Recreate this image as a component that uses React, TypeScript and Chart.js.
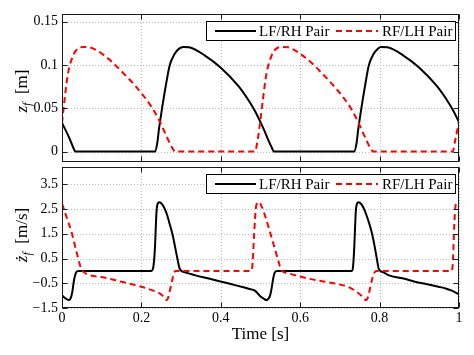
import React, { useEffect, useRef } from 'react';
import { Chart, registerables } from 'chart.js';

Chart.register(...registerables);

const FONT = "'Liberation Serif', 'Times New Roman', Times, serif";
const BLACK = '#000000';
const RED = '#ff0000';

const seriesNames = ['LF/RH Pair', 'RF/LH Pair'];

const timeTickValues = [0, 0.2, 0.4, 0.6, 0.8, 1];
const timeTickLabels = ['0', '0.2', '0.4', '0.6', '0.8', '1'];
const heightTickValues = [0, 0.05, 0.1, 0.15];
const heightTickLabels = ['0', '0.05', '0.1', '0.15'];
const velocityTickValues = [-1.5, -0.5, 0.5, 1.5, 2.5, 3.5];
const velocityTickLabels = ['\u22121.5', '\u22120.5', '0.5', '1.5', '2.5', '3.5'];

// LF/RH pair foot height z_f [m]
const lfHeightTime = [0, 0.01, 0.02, 0.028, 0.034, 0.234, 0.24, 0.244, 0.252, 0.261, 0.2715, 0.284, 0.295, 0.305, 0.32, 0.36, 0.4, 0.444, 0.469, 0.486, 0.5, 0.51, 0.52, 0.528, 0.534, 0.736, 0.742, 0.746, 0.754, 0.763, 0.773, 0.785, 0.796, 0.803, 0.82, 0.86, 0.9, 0.944, 0.969, 0.986, 1.0];
const lfHeight = [0.033, 0.024, 0.014, 0.005, 0, 0, 0.01, 0.025, 0.05, 0.075, 0.1, 0.113, 0.119, 0.121, 0.1205, 0.111, 0.097, 0.076, 0.06, 0.047, 0.034, 0.024, 0.013, 0.005, 0, 0, 0.01, 0.025, 0.05, 0.075, 0.1, 0.113, 0.119, 0.121, 0.1205, 0.111, 0.097, 0.076, 0.06, 0.047, 0.034];

// RF/LH pair foot height z_f [m]
const rfHeightTime = [0, 0.007, 0.015, 0.028, 0.04, 0.055, 0.07, 0.091, 0.125, 0.158, 0.192, 0.225, 0.246, 0.265, 0.278, 0.285, 0.486, 0.49, 0.498, 0.506, 0.515, 0.528, 0.54, 0.556, 0.57, 0.59, 0.625, 0.658, 0.692, 0.725, 0.745, 0.765, 0.778, 0.785, 0.984, 0.99, 1.0];
const rfHeight = [0.033, 0.062, 0.09, 0.111, 0.119, 0.121, 0.1205, 0.116, 0.104, 0.089, 0.072, 0.052, 0.035, 0.016, 0.004, 0, 0, 0.006, 0.03, 0.06, 0.09, 0.111, 0.119, 0.121, 0.1205, 0.116, 0.104, 0.089, 0.072, 0.052, 0.035, 0.015, 0.003, 0, 0, 0.012, 0.035];

// LF/RH pair foot velocity [m/s]
const lfVelTime = [0, 0.008, 0.017, 0.022, 0.026, 0.03, 0.034, 0.039, 0.045, 0.225, 0.23, 0.234, 0.238, 0.241, 0.245, 0.252, 0.259, 0.265, 0.271, 0.278, 0.284, 0.29, 0.297, 0.31, 0.334, 0.37, 0.402, 0.43, 0.452, 0.47, 0.486, 0.498, 0.508, 0.515, 0.52, 0.524, 0.528, 0.532, 0.536, 0.542, 0.73, 0.733, 0.736, 0.74, 0.743, 0.747, 0.754, 0.761, 0.767, 0.774, 0.781, 0.788, 0.793, 0.798, 0.81, 0.822, 0.86, 0.889, 0.92, 0.948, 0.968, 0.982, 1.0];
const lfVel = [-0.98, -1.1, -1.18, -1.1, -0.85, -0.4, -0.12, -0.01, 0, 0, 0.15, 0.9, 2.38, 2.72, 2.78, 2.7, 2.5, 2.25, 1.91, 1.5, 1.04, 0.55, 0.07, -0.06, -0.17, -0.31, -0.44, -0.55, -0.64, -0.72, -0.8, -1.0, -1.12, -1.18, -1.12, -1.0, -0.7, -0.31, -0.06, 0, 0, 0.15, 0.9, 2.38, 2.72, 2.78, 2.7, 2.5, 2.25, 1.91, 1.5, 0.95, 0.5, 0.07, -0.06, -0.17, -0.31, -0.44, -0.54, -0.64, -0.72, -0.8, -0.95];

// RF/LH pair foot velocity [m/s]
const rfVelTime = [0, 0.012, 0.024, 0.036, 0.045, 0.05, 0.1, 0.15, 0.2, 0.23, 0.246, 0.256, 0.263, 0.268, 0.273, 0.278, 0.282, 0.286, 0.477, 0.48, 0.484, 0.488, 0.492, 0.496, 0.503, 0.51, 0.519, 0.527, 0.536, 0.545, 0.553, 0.57, 0.62, 0.687, 0.72, 0.738, 0.754, 0.765, 0.771, 0.776, 0.781, 0.786, 0.791, 0.982, 0.985, 0.988, 0.991, 0.995, 1.0];
const rfVel = [2.72, 2.15, 1.57, 0.8, 0.25, 0.02, -0.25, -0.44, -0.64, -0.8, -0.91, -1.05, -1.18, -1.05, -0.7, -0.35, -0.1, 0, 0, 0.3, 1.5, 2.5, 2.75, 2.78, 2.6, 2.3, 1.84, 1.4, 0.9, 0.4, 0.02, -0.1, -0.31, -0.51, -0.64, -0.8, -1.0, -1.18, -1.05, -0.7, -0.35, -0.1, 0, 0, 0.5, 1.8, 2.6, 2.75, 2.72];

const toPoints = (xs: number[], ys: number[]) => xs.map((x, i) => ({ x, y: ys[i] }));

function labelFor(values: number[], labels: string[], v: number) {
  const i = values.findIndex((t) => Math.abs(t - v) < 1e-9);
  return i >= 0 ? labels[i] : '';
}

function drawYTitle(ctx: CanvasRenderingContext2D, cx: number, cy: number, sym: string, unit: string) {
  ctx.save();
  ctx.translate(cx, cy);
  ctx.rotate(-Math.PI / 2);
  ctx.fillStyle = '#000';
  ctx.textBaseline = 'alphabetic';
  ctx.textAlign = 'left';
  const parts = [
    { text: sym, font: `italic 17px ${FONT}`, dy: 0 },
    { text: 'f', font: `italic 12px ${FONT}`, dy: 3.5 },
    { text: '  [' + unit + ']', font: `17px ${FONT}`, dy: 0 },
  ];
  let total = 0;
  for (const p of parts) {
    ctx.font = p.font;
    total += ctx.measureText(p.text).width;
  }
  let x = -total / 2;
  for (const p of parts) {
    ctx.font = p.font;
    ctx.fillText(p.text, x, 5 + p.dy);
    x += ctx.measureText(p.text).width;
  }
  ctx.restore();
}

const decoPlugin = {
  id: 'deco',
  beforeDatasetsDraw(chart: any, _args: any, opts: any) {
    const { ctx, chartArea: a, scales } = chart;
    ctx.save();
    ctx.strokeStyle = '#bdbdbd';
    ctx.lineWidth = 1;
    ctx.setLineDash([1, 2]);
    ctx.beginPath();
    for (const v of timeTickValues) {
      const p = Math.round(scales.x.getPixelForValue(v)) + 0.5;
      ctx.moveTo(p, a.top);
      ctx.lineTo(p, a.bottom);
    }
    for (const v of opts.yTicks) {
      const p = Math.round(scales.y.getPixelForValue(v)) + 0.5;
      ctx.moveTo(a.left, p);
      ctx.lineTo(a.right, p);
    }
    ctx.stroke();
    ctx.restore();
  },
  afterDatasetsDraw(chart: any, _args: any, opts: any) {
    const { ctx, chartArea: a, scales } = chart;
    ctx.save();
    // frame
    ctx.strokeStyle = '#1a1a1a';
    ctx.lineWidth = 1;
    ctx.setLineDash([]);
    const L = Math.round(a.left) + 0.5, R = Math.round(a.right) - 0.5;
    const T = Math.round(a.top) + 0.5, B = Math.round(a.bottom) - 0.5;
    ctx.strokeRect(L, T, R - L, B - T);
    // inward tick marks
    ctx.beginPath();
    const tl = 5;
    for (const v of timeTickValues) {
      const p = Math.round(scales.x.getPixelForValue(v)) + 0.5;
      ctx.moveTo(p, T); ctx.lineTo(p, T + tl);
      ctx.moveTo(p, B); ctx.lineTo(p, B - tl);
    }
    for (const v of opts.yTicks) {
      const p = Math.round(scales.y.getPixelForValue(v)) + 0.5;
      ctx.moveTo(L, p); ctx.lineTo(L + tl, p);
      ctx.moveTo(R, p); ctx.lineTo(R - tl, p);
    }
    ctx.stroke();

    // legend box
    const bw = 249, bh = 19;
    const bx = Math.round(a.right - 4.5 - bw), by = Math.round(a.top + 6.7);
    ctx.fillStyle = '#fff';
    ctx.fillRect(bx, by, bw, bh);
    ctx.strokeStyle = '#000';
    ctx.lineWidth = 1;
    ctx.strokeRect(bx + 0.5, by + 0.5, bw, bh);
    const cy = by + bh / 2 + 0.5;
    ctx.lineWidth = 2;
    ctx.strokeStyle = BLACK;
    ctx.beginPath();
    ctx.moveTo(bx + 9, cy); ctx.lineTo(bx + 50, cy);
    ctx.stroke();
    ctx.strokeStyle = RED;
    ctx.setLineDash([6, 4]);
    ctx.beginPath();
    ctx.moveTo(bx + 130, cy); ctx.lineTo(bx + 172, cy);
    ctx.stroke();
    ctx.setLineDash([]);
    ctx.fillStyle = '#000';
    ctx.font = `15px ${FONT}`;
    ctx.textBaseline = 'middle';
    ctx.textAlign = 'left';
    ctx.fillText(seriesNames[0], bx + 53, cy + 1);
    ctx.fillText(seriesNames[1], bx + 176, cy + 1);

    // titles
    drawYTitle(ctx, opts.titleX, opts.titleY, opts.sym, opts.unit);
    if (opts.xTitle) {
      ctx.font = `17px ${FONT}`;
      ctx.textAlign = 'center';
      ctx.textBaseline = 'middle';
      ctx.fillStyle = '#000';
      ctx.fillText(opts.xTitle, (a.left + a.right) / 2, opts.xTitleY);
    }
    ctx.restore();
  },
};

function makeConfig(opts: {
  black: { x: number; y: number }[];
  red: { x: number; y: number }[];
  yMin: number;
  yMax: number;
  yTicks: number[];
  yLabels: string[];
  padTop: number;
  xHeight: number;
  showX: boolean;
  deco: any;
}): any {
  const zeroPad = (s: any) => {
    s.paddingTop = 0; s.paddingBottom = 0; s.paddingLeft = 0; s.paddingRight = 0;
  };
  return {
    type: 'line',
    data: {
      datasets: [
        {
          label: seriesNames[0],
          data: opts.black,
          borderColor: BLACK,
          borderWidth: 2,
          pointRadius: 0,
          fill: false,
          cubicInterpolationMode: 'monotone',
          order: 1,
        },
        {
          label: seriesNames[1],
          data: opts.red,
          borderColor: RED,
          borderWidth: 2,
          borderDash: [6, 4],
          pointRadius: 0,
          fill: false,
          cubicInterpolationMode: 'monotone',
          order: 0,
        },
      ],
    },
    options: {
      responsive: false,
      maintainAspectRatio: false,
      animation: false,
      events: [],
      layout: { padding: { top: opts.padTop, left: 0, right: 15, bottom: 0 } },
      plugins: {
        legend: { display: false },
        tooltip: { enabled: false },
        deco: opts.deco,
      },
      scales: {
        x: {
          type: 'linear',
          min: 0,
          max: 1,
          grid: { display: false, drawTicks: false },
          border: { display: false },
          ticks: {
            display: opts.showX,
            padding: 2,
            color: '#000',
            font: { family: FONT, size: 14 },
            maxRotation: 0,
            autoSkip: false,
            callback: (v: number) => labelFor(timeTickValues, timeTickLabels, v),
          },
          afterBuildTicks: (s: any) => {
            s.ticks = timeTickValues.map((value) => ({ value }));
          },
          afterFit: (s: any) => {
            s.height = opts.xHeight;
            zeroPad(s);
          },
        },
        y: {
          type: 'linear',
          min: opts.yMin,
          max: opts.yMax,
          grid: { display: false, drawTicks: false },
          border: { display: false },
          ticks: {
            padding: 4,
            color: '#000',
            font: { family: FONT, size: 14 },
            autoSkip: false,
            callback: (v: number) => labelFor(opts.yTicks, opts.yLabels, v),
          },
          afterBuildTicks: (s: any) => {
            s.ticks = opts.yTicks.map((value) => ({ value }));
          },
          afterFit: (s: any) => {
            s.width = 62;
            zeroPad(s);
          },
        },
      },
    },
    plugins: [decoPlugin],
  };
}

export default function App() {
  const topRef = useRef<HTMLCanvasElement | null>(null);
  const botRef = useRef<HTMLCanvasElement | null>(null);

  useEffect(() => {
    if (!topRef.current || !botRef.current) return;
    const top = new Chart(
      topRef.current,
      makeConfig({
        black: toPoints(lfHeightTime, lfHeight),
        red: toPoints(rfHeightTime, rfHeight),
        yMin: -0.012,
        yMax: 0.159,
        yTicks: heightTickValues,
        yLabels: heightTickLabels,
        padTop: 14,
        xHeight: 4,
        showX: false,
        deco: { yTicks: heightTickValues, titleX: 22, titleY: 91, sym: 'z', unit: 'm' },
      })
    );
    const bottom = new Chart(
      botRef.current,
      makeConfig({
        black: toPoints(lfVelTime, lfVel),
        red: toPoints(rfVelTime, rfVel),
        yMin: -1.5,
        yMax: 4.2,
        yTicks: velocityTickValues,
        yLabels: velocityTickLabels,
        padTop: 1,
        xHeight: 47,
        showX: true,
        deco: { yTicks: velocityTickValues, titleX: 22, titleY: 69, sym: '\u017C', unit: 'm/s', xTitle: 'Time [s]', xTitleY: 169 },
      })
    );
    return () => {
      top.destroy();
      bottom.destroy();
    };
  }, []);

  return (
    <div style={{ position: 'absolute', left: 0, top: 0, width: 474, height: 355, background: '#fff' }}>
      <canvas ref={topRef} width={474} height={166} style={{ position: 'absolute', left: 0, top: 0, width: 474, height: 166 }} />
      <canvas ref={botRef} width={474} height={189} style={{ position: 'absolute', left: 0, top: 166, width: 474, height: 189 }} />
    </div>
  );
}
